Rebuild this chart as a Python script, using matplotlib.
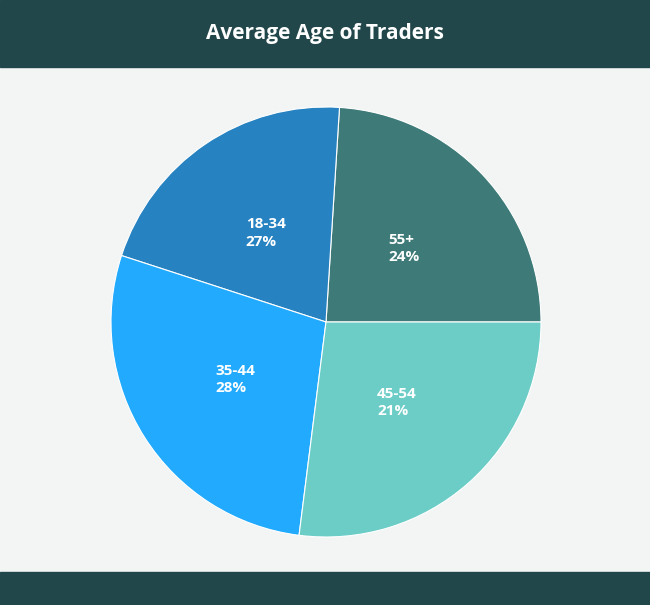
import matplotlib.pyplot as plt
import numpy as np

# slice order: counter-clockwise from the 55+ start edge near 12 o'clock
groups = ["55+", "18-34", "35-44", "45-54"]
shares = [24, 21, 28, 27]          # sizes as drawn
labels = ["55+\n24%", "18-34\n27%", "35-44\n28%", "45-54\n21%"]
colors = ["#3d7a78", "#2682c0", "#22aaff", "#6ccdc7"]

fig = plt.figure(figsize=(6.5, 6.05), dpi=100)
fig.patch.set_facecolor("#f3f5f5")

# header and footer bands
fig.patches.append(plt.Rectangle((0, 1 - 67 / 605), 1, 67 / 605, transform=fig.transFigure,
                                 color="#22474a", zorder=0))
fig.patches.append(plt.Rectangle((0, 0), 1, 33 / 605, transform=fig.transFigure,
                                 color="#22474a", zorder=0))
fig.text(0.5, 1 - 33 / 605, "Average Age of Traders", color="white", fontsize=15,
         fontweight="bold", ha="center", va="center", family="Open Sans")

ax = fig.add_axes([(326 - 215) / 650, (605 - 322 - 215) / 605, 430 / 650, 430 / 605])
wedges, _ = ax.pie(shares, colors=colors, startangle=0, counterclock=True,
                   wedgeprops=dict(edgecolor="white", linewidth=0.8))
# rotate so 55+ ends at 3 o'clock: it spans 0..86.4 deg
for w, lab in zip(wedges, labels):
    mid = np.deg2rad((w.theta1 + w.theta2) / 2)
    ax.text(0.5 * np.cos(mid), 0.5 * np.sin(mid), lab, color="white", fontsize=11,
            fontweight="bold", ha="center", va="center", multialignment="left",
            family="Open Sans", linespacing=1.3)
ax.set_aspect("equal")
ax.set_xlim(-1, 1)
ax.set_ylim(-1, 1)
ax.axis("off")

fig.savefig("out.png", dpi=100, facecolor=fig.get_facecolor())
